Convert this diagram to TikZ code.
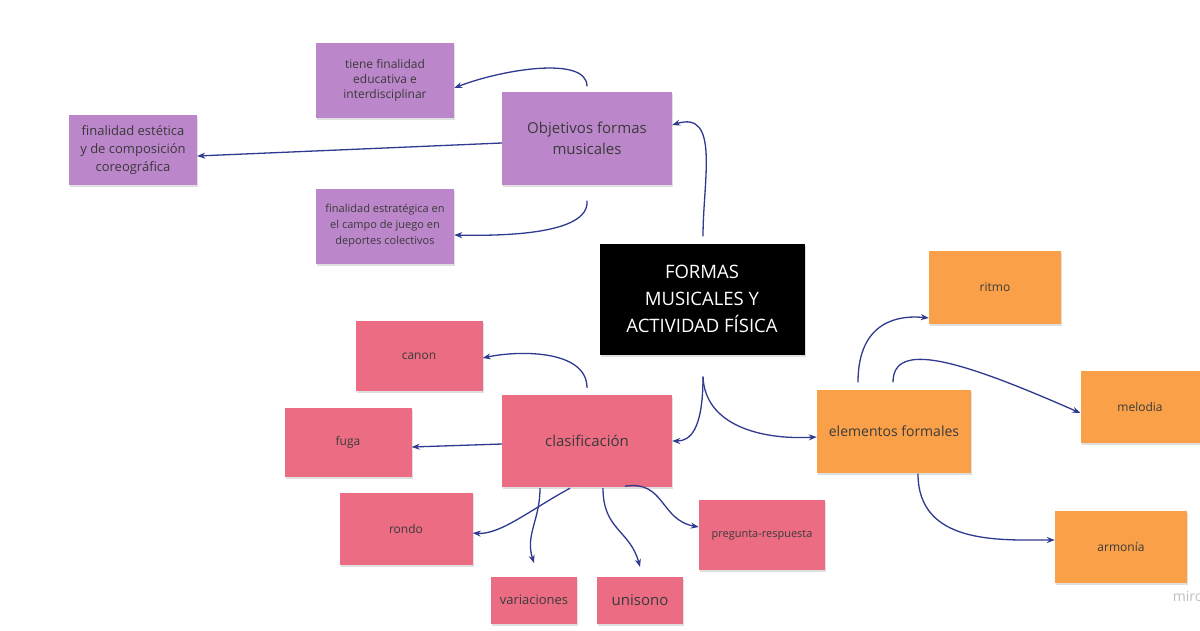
\documentclass[tikz,border=0pt]{standalone}
\usepackage{fontspec}
\setmainfont{Open Sans}
\usetikzlibrary{calc,arrows.meta,shadows}
\definecolor{pur}{HTML}{BC86CB}
\definecolor{pnk}{HTML}{EC6D83}
\definecolor{org}{HTML}{F9A048}
\definecolor{arr}{HTML}{2F3A8F}
\definecolor{txt}{HTML}{3A3A3A}
\tikzset{
 note/.style={minimum width=#1, align=center, inner sep=2pt, text=txt, drop shadow={shadow xshift=1pt,shadow yshift=-2pt,opacity=0.25}},
 pn/.style={note=138pt, fill=pur},
 pk/.style={note=127pt, fill=pnk},
 og/.style={note=132pt, fill=org},
 con/.style={draw=arr, line width=1.3pt, -{Stealth[length=8pt,width=6pt]}},
}
\begin{document}
\begin{tikzpicture}[x=1pt,y=-1pt]
\useasboundingbox (0,0) rectangle (1200,630);
\fill[white] (0,0) rectangle (1200,630);
% purple
\node[pn, minimum height=75pt, font=\fontsize{12}{15}\selectfont] (tiene) at (385,80) {tiene finalidad\\educativa e\\interdisciplinar};
\node[pn, minimum width=170pt, minimum height=93pt, font=\fontsize{15}{21}\selectfont] (obj) at (587,138) {Objetivos formas\\musicales};
\node[pn, minimum width=128pt, minimum height=70pt, font=\fontsize{13}{18}\selectfont] (est) at (133,150) {finalidad estética\\y de composición\\coreográfica};
\node[pn, minimum height=75pt, font=\fontsize{11}{16}\selectfont] (estr) at (385,226) {finalidad estratégica en\\el campo de juego en\\deportes colectivos};
% center
\node[note=205pt, fill=black, text=white, minimum height=111pt, font=\fontsize{18.5}{27}\selectfont] (c) at (702,299) {FORMAS\\MUSICALES Y\\ACTIVIDAD FÍSICA};
% orange
\node[og, minimum height=73pt, font=\fontsize{12}{15}\selectfont] (rit) at (995,287) {ritmo};
\node[og, minimum width=119pt, minimum height=72pt, font=\fontsize{12}{15}\selectfont] (mel) at (1140,407) {melodia};
\node[og, minimum width=154pt, minimum height=83pt, font=\fontsize{14}{18}\selectfont] (ele) at (894,431) {elementos formales};
\node[og, minimum height=72pt, font=\fontsize{12}{15}\selectfont] (arm) at (1121,547) {armonía};
% pink
\node[pk, minimum height=70pt, font=\fontsize{12}{15}\selectfont] (can) at (419,356) {canon};
\node[pk, minimum width=170pt, minimum height=92pt, font=\fontsize{15}{18}\selectfont] (cla) at (587,441) {clasificación};
\node[pk, minimum height=69pt, font=\fontsize{12}{15}\selectfont] (fug) at (348,442) {fuga};
\node[pk, minimum width=133pt, minimum height=72pt, font=\fontsize{12}{15}\selectfont] (ron) at (406,529) {rondo};
\node[pk, minimum width=86pt, minimum height=47pt, font=\fontsize{13}{15}\selectfont] (var) at (534,600) {variaciones};
\node[pk, minimum width=86pt, minimum height=47pt, font=\fontsize{15}{18}\selectfont] (uni) at (640,600) {unisono};
\node[pk, minimum width=126pt, minimum height=70pt, font=\fontsize{11}{15}\selectfont] (pre) at (762,535) {pregunta-respuesta};
\node[text=gray!50, font=\fontsize{14}{16}\selectfont] (miro) at (1188,596) {miro};
% connectors
\draw[con] ($(c.north)+(1,-7)$) .. controls (703,180) and (720,110) .. (obj.east |- 0,125);
\draw[con] ($(c.south)+(1,22)$) .. controls (703,430) and (690,441) .. (cla.east);
\draw[con] ($(c.south)+(1,22)$) .. controls (705,425) and (760,440) .. (ele.west |- 0,437);
\draw[con] ($(obj.north)+(0,-5)$) .. controls (587,55) and (500,70) .. (tiene.east |- 0,88);
\draw[con] (obj.west |- 0,143) -- (est.east |- 0,156);
\draw[con] ($(obj.south)+(0,16)$) .. controls (590,235) and (500,236) .. (estr.east |- 0,235);
\draw[con] ($(cla.north)+(0,-7)$) .. controls (587,350) and (520,350) .. (can.east |- 0,358);
\draw[con] (cla.west |- 0,444) -- (fug.east |- 0,447);
\draw[con] ($(cla.south)+(-17,1)$) .. controls (530,510) and (500,535) .. (ron.east |- 0,533);
\draw[con] ($(cla.south)+(-47,1)$) .. controls (540,520) and (525,535) .. (var.north |- 0,563);
\draw[con] ($(cla.south)+(16,1)$) .. controls (603,530) and (630,530) .. (uni.north |- 0,567);
\draw[con] ($(cla.south)+(38,-1)$) .. controls (665,480) and (660,520) .. (pre.west |- 0,527);
\draw[con] ($(ele.north)+(-36,-7)$) .. controls (858,320) and (900,315) .. (rit.west |- 0,318);
\draw[con] ($(ele.north)+(-1,-7)$) .. controls (893,340) and (960,360) .. (mel.west |- 0,413);
\draw[con] ($(ele.south)+(24,1)$) .. controls (918,545) and (1000,540) .. (arm.west |- 0,540);
\end{tikzpicture}
\end{document}
